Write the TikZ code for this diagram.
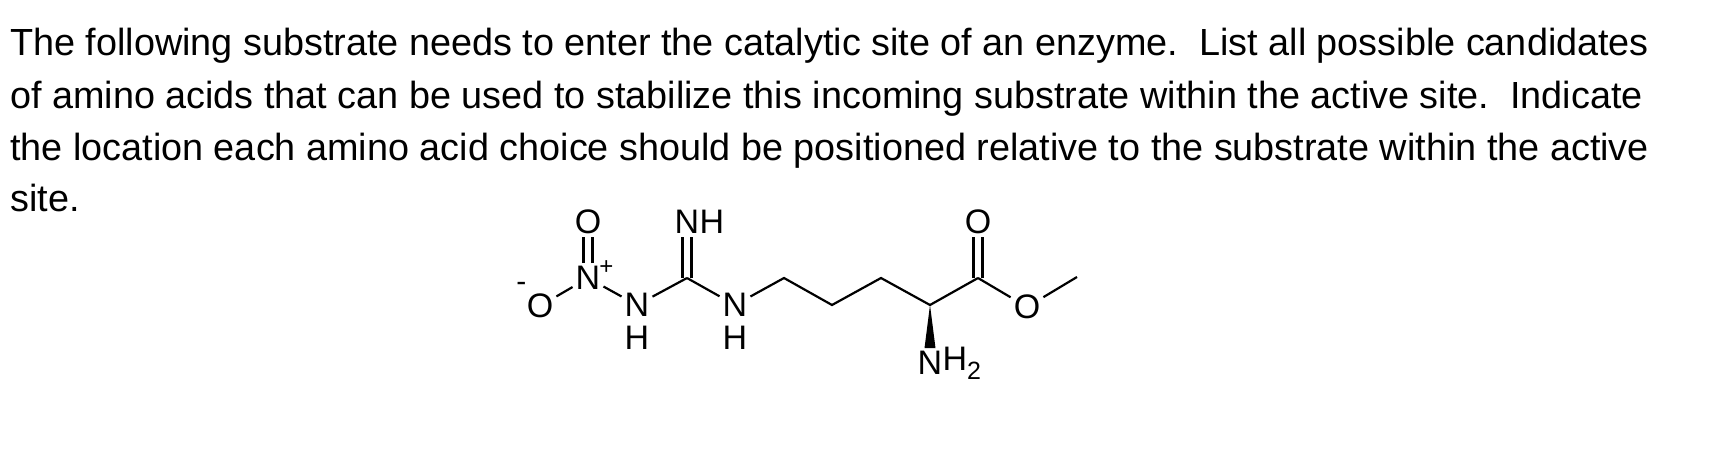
\documentclass[tikz,border=0pt]{standalone}
\usepackage{fontspec}
\setmainfont{Liberation Sans}
\begin{document}
\begin{tikzpicture}[x=1pt,y=-1pt,
  txt/.style={anchor=base west,inner sep=0pt,font=\fontsize{37.8}{40}\selectfont},
  atom/.style={inner sep=3pt,font=\fontsize{34}{34}\selectfont},
  bond/.style={line width=2.2pt},
  chg/.style={inner sep=0pt,font=\fontsize{24}{24}\selectfont}]
\useasboundingbox (0,0) rectangle (1734,452);
\node[txt] (l1) at (10,56) {The following substrate needs to enter the catalytic site of an enzyme.\ \ List all possible candidates};
\node[txt] (l2) at (10,108) {of amino acids that can be used to stabilize this incoming substrate within the active site.\ \ Indicate};
\node[txt] (l3) at (10,160) {the location each amino acid choice should be positioned relative to the substrate within the active};
\node[txt] (l4) at (10,211) {site.};
% atoms
\node[atom] (om) at (540,306) {O};
\node[chg,anchor=east,font=\fontsize{30}{30}\selectfont] (mi) at ([xshift=3,yshift=4]om.north west) {-};
\node[atom] (np) at (588,278) {N};
\node[chg] (pl) at ([xshift=3,yshift=-4]np.north east) {+};
\node[atom] (o1) at (588,222) {O};
\node[atom] (n1) at (637,305) {N};
\node[atom] (h1) at (637,338) {H};
\coordinate (cg) at (687,278);
\node[atom] (n3) at (687,222) {N};
\node[atom,anchor=west,inner sep=0pt] (h3) at ([xshift=-3]n3.east) {H};
\node[atom] (n2) at (735,305) {N};
\node[atom] (h2) at (735,338) {H};
\coordinate (c1) at (784,278);
\coordinate (c2) at (832,305);
\coordinate (c3) at (881,278);
\coordinate (ca) at (930,305);
\node[atom] (na) at (930,363) {N};
\node[atom,anchor=west,inner sep=0pt] (ha) at ([xshift=-3]na.east) {H\raisebox{-9pt}{\fontsize{25}{25}\selectfont 2}};
\coordinate (cc) at (978,278);
\node[atom] (o2) at (978,222) {O};
\node[atom] (oe) at (1027,307) {O};
\coordinate (me) at (1077,277);
% bonds
\draw[bond] (om) -- (np);
\draw[bond] ([xshift=-4.5]np.north) -- ([xshift=-4.5]o1.south);
\draw[bond] ([xshift=4.5]np.north) -- ([xshift=4.5]o1.south);
\draw[bond] (np) -- (n1);
\draw[bond] (n1) -- (cg);
\draw[bond] ([xshift=-4.5]cg) -- ([xshift=-4.5]n3.south);
\draw[bond] ([xshift=4.5]cg) -- ([xshift=4.5]n3.south);
\draw[bond] (cg) -- (n2);
\draw[bond] (n2) -- (c1) -- (c2) -- (c3) -- (ca) -- (cc);
\draw[bond] ([xshift=-4.5]cc) -- ([xshift=-4.5]o2.south);
\draw[bond] ([xshift=4.5]cc) -- ([xshift=4.5]o2.south);
\draw[bond] (cc) -- (oe) -- (me);
\fill (ca) -- ([xshift=-5.5]na.north) -- ([xshift=5.5]na.north) -- cycle;
\end{tikzpicture}
\end{document}
